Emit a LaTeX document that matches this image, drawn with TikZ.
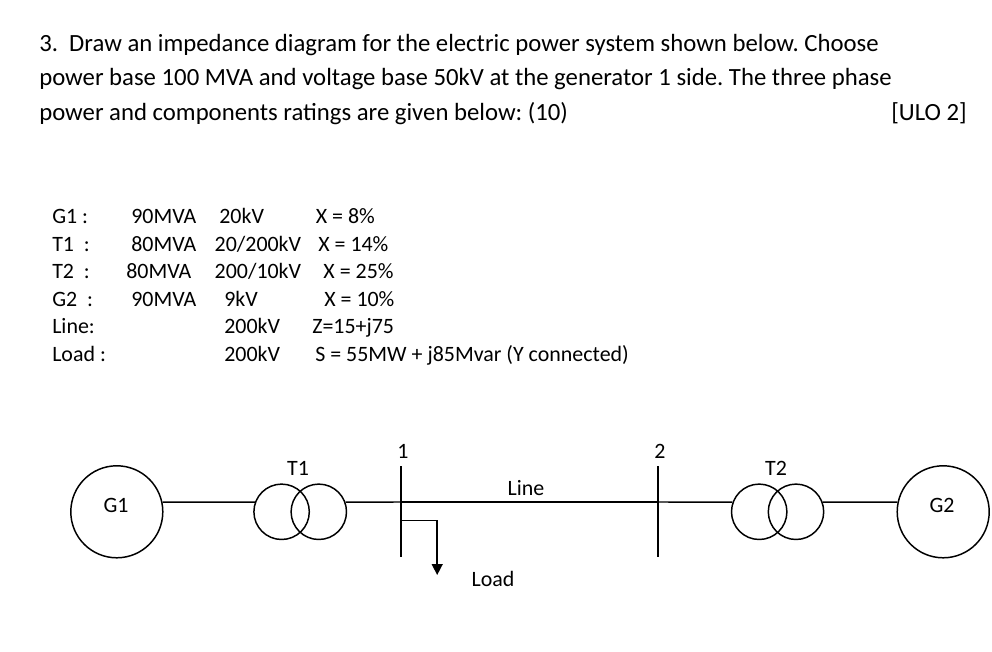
\documentclass[tikz,border=0pt]{standalone}
\usepackage{fontspec}
\setmainfont{Carlito}
\usetikzlibrary{arrows.meta}
\tikzset{
	head/.style={anchor=base west, inner sep=0pt, font=\fontsize{17.6}{20}\selectfont},
	txt/.style={anchor=base west, inner sep=0pt, font=\fontsize{15.6}{18}\selectfont},
	lbl/.style={anchor=base, inner sep=0pt, font=\fontsize{15.6}{18}\selectfont},
	wire/.style={line width=1.05pt},
	mach/.style={draw, circle, line width=1.05pt, minimum size=2.3cm, inner sep=0pt},
	coil/.style={draw, circle, line width=1.05pt, minimum size=1.385cm, inner sep=0pt},
}

\begin{document}
\frenchspacing
\begin{tikzpicture}
	\useasboundingbox (0,0) rectangle (24.8,16.275);
	% question
	\node[head] at (0.975,14.975) {3.\ \ Draw an impedance diagram for the electric power system shown below. Choose};
	\node[head] at (0.975,14.125) {power base 100 MVA and voltage base 50kV at the generator 1 side. The three phase};
	\node[head] at (0.975,13.25) {power and components ratings are given below: (10)};
	\node[head] at (22.275,13.25) {[ULO 2]};
	% ratings
	\node[txt] at (1.3,10.675) {G1 :};
	\node[txt] at (3.275,10.675) {90MVA};
	\node[txt] at (5.475,10.675) {20kV};
	\node[txt] at (7.89,10.675) {X = 8\%};
	\node[txt] at (1.3,9.99) {T1 \ :};
	\node[txt] at (3.275,9.99) {80MVA};
	\node[txt] at (5.36,9.99) {20/200kV};
	\node[txt] at (7.95,9.99) {X = 14\%};
	\node[txt] at (1.3,9.3) {T2 \ :};
	\node[txt] at (3.15,9.3) {80MVA};
	\node[txt] at (5.36,9.3) {200/10kV};
	\node[txt] at (8.08,9.3) {X = 25\%};
	\node[txt] at (1.3,8.61) {G2 \ :};
	\node[txt] at (3.275,8.61) {90MVA};
	\node[txt] at (5.6,8.61) {9kV};
	\node[txt] at (8.1,8.61) {X = 10\%};
	\node[txt] at (1.3,7.925) {Line:};
	\node[txt] at (5.6,7.925) {200kV};
	\node[txt] at (7.8,7.925) {Z=15+j75};
	\node[txt] at (1.3,7.24) {Load :};
	\node[txt] at (5.6,7.24) {200kV};
	\node[txt] at (7.875,7.24) {S = 55MW + j85Mvar (Y connected)};
	% machines and transformers
	\node[mach] (gone) at (2.92,3.48) {};
	\node[lbl] at (2.9,3.46) {G1};
	\node[coil] (tonea) at (7.04,3.48) {};
	\node[coil] (toneb) at (7.97,3.48) {};
	\node[coil] (ttwoa) at (18.98,3.48) {};
	\node[coil] (ttwob) at (19.9,3.48) {};
	\node[mach] (gtwo) at (23.58,3.48) {};
	\node[lbl] at (23.55,3.46) {G2};
	\node[lbl] at (7.45,4.38) {T1};
	\node[lbl] at (19.4,4.38) {T2};
	\node[lbl] at (10.075,4.825) {1};
	\node[lbl] at (16.5,4.825) {2};
	\node[lbl] at (13.15,3.9) {Line};
	\node[lbl] at (12.325,1.61) {Load};
	% buses
	\coordinate (busonetop) at (10.03,4.62);
	\coordinate (busonebot) at (10.03,2.35);
	\coordinate (bustwotop) at (16.45,4.62);
	\coordinate (bustwobot) at (16.45,2.35);
	\coordinate (busonemid) at (10.03,3.725);
	\coordinate (bustwomid) at (16.45,3.725);
	\coordinate (tap) at (10.03,3.26);
	\coordinate (elbow) at (10.93,3.26);
	\coordinate (loadend) at (10.93,1.9);
	\draw[wire] (busonetop) -- (busonebot);
	\draw[wire] (bustwotop) -- (bustwobot);
	\draw[wire] (gone.12) -- (tonea.160);
	\draw[wire] (toneb.20) -- (busonemid);
	\draw[wire] (busonemid) -- (bustwomid);
	\draw[wire] (bustwomid) -- (ttwoa.160);
	\draw[wire] (ttwob.20) -- (gtwo.168);
	\draw[wire, -{Triangle[length=2.75mm,width=2.75mm]}] (tap) -- (elbow) -- (loadend);
\end{tikzpicture}
\end{document}
